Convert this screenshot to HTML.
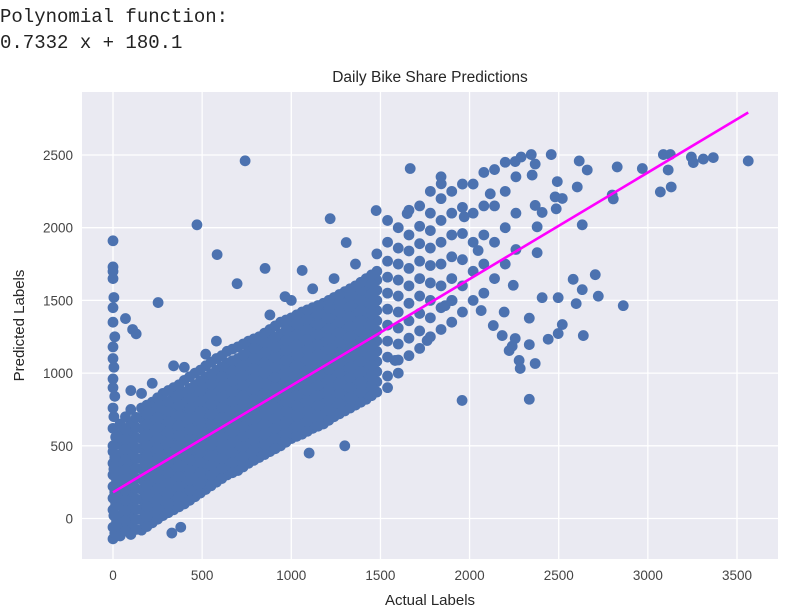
<!DOCTYPE html>
<html><head><meta charset="utf-8">
<style>
body{margin:0;background:#fff;width:791px;height:613px;overflow:hidden;font-family:"Liberation Sans",sans-serif;}
#hdr{position:absolute;left:0;top:4px;font-family:"Liberation Mono",monospace;font-size:19px;line-height:26px;color:#222;white-space:pre;}
svg{position:absolute;left:0;top:0;}
</style></head>
<body>
<div id="hdr">Polynomial function:
0.7332 x + 180.1</div>
<svg id="chart" width="791" height="613"></svg>
<script>
const xTicks=[0,500,1000,1500,2000,2500,3000,3500];
const yTicks=[0,500,1000,1500,2000,2500];
const fitSlope=0.7332;
const fitIntercept=180.1;
// dense band: column actual values and predicted values per column
const bandX=[40,100,160,220,280,340,400,460,520,580,640,700,760,820,880,940,1000,1060,1120,1180,1240,1300,1360,1420,1480];
const bandY=[
[-120,-50,20,90,160,230,300,370,440,510,580,650],
[-110,-40,30,100,170,240,310,380,450,520,590,660,750,880],
[-80,-10,60,130,200,270,340,410,480,550,620,690,760,860],
[-30,40,110,180,250,320,390,460,530,600,670,740,800,930],
[20,90,160,230,300,370,440,510,580,650,720,790,860],
[60,130,200,270,340,410,480,550,620,690,760,830,900,1050],
[100,170,240,310,380,450,520,590,660,730,800,870,950,1040],
[150,220,290,360,430,500,570,640,710,780,850,920,1000],
[200,270,340,410,480,550,620,690,760,830,900,970,1050,1130],
[250,320,390,460,530,600,670,740,810,880,950,1020,1100,1220],
[300,370,440,510,580,650,720,790,860,930,1000,1070,1150],
[330,400,470,540,610,680,750,820,890,960,1030,1100,1180],
[380,450,520,590,660,730,800,870,940,1010,1080,1150,1220],
[420,490,560,630,700,770,840,910,980,1050,1120,1190,1250],
[460,530,600,670,740,810,880,950,1020,1090,1160,1230,1300,1400],
[500,570,640,710,780,850,920,990,1060,1130,1200,1270,1350],
[550,620,690,760,830,900,970,1040,1110,1180,1250,1320,1380,1500],
[580,650,720,790,860,930,1000,1070,1140,1210,1280,1350,1420],
[620,690,760,830,900,970,1040,1110,1180,1250,1320,1390,1450,1580],
[650,720,790,860,930,1000,1070,1140,1210,1280,1350,1420,1480],
[700,770,840,910,980,1050,1120,1190,1260,1330,1400,1470,1520,1650],
[740,810,880,950,1020,1090,1160,1230,1300,1370,1440,1510,1560],
[780,850,920,990,1060,1130,1200,1270,1340,1410,1480,1550,1600,1750],
[820,890,960,1030,1100,1170,1240,1310,1380,1450,1520,1590,1650],
[870,940,1010,1080,1150,1220,1290,1360,1430,1500,1570,1640,1700,1820]
];
// interleaved band columns
const band2X=[70,130,190,250,310,370,430,490,550,610,670,730,790,850,910,970,1030,1090,1150,1210,1270,1330,1390,1450];
const band2Y=[
[-85,-15,55,125,195,265,335,405,475,545,615,700],
[-75,-5,65,135,205,275,345,415,485,555,625,695],
[-55,15,85,155,225,295,365,435,505,575,645,715,780],
[-5,65,135,205,275,345,415,485,555,625,695,765,830],
[40,105,175,245,315,385,455,525,595,665,735,805,880],
[80,150,220,290,360,430,500,570,640,710,780,850,920],
[125,195,265,335,405,475,545,615,685,755,825,895,975],
[175,245,315,385,455,525,595,665,735,805,875,945,1020],
[225,295,365,435,505,575,645,715,785,855,925,995,1075],
[275,345,415,485,555,625,695,765,835,905,975,1045,1120],
[315,385,455,525,595,665,735,805,875,945,1015,1085,1165],
[355,425,495,565,635,705,775,845,915,985,1055,1125,1200],
[400,470,540,610,680,750,820,890,960,1030,1100,1170,1235],
[440,510,580,650,720,790,860,930,1000,1070,1140,1210,1275],
[480,550,620,690,760,830,900,970,1040,1110,1180,1250,1325],
[525,595,665,735,805,875,945,1015,1085,1155,1225,1295,1365],
[565,635,705,775,845,915,985,1055,1125,1195,1265,1335,1400],
[600,670,740,810,880,950,1020,1090,1160,1230,1300,1370,1435],
[635,705,775,845,915,985,1055,1125,1195,1265,1335,1405,1465],
[675,745,815,885,955,1025,1095,1165,1235,1305,1375,1445,1500],
[720,790,860,930,1000,1070,1140,1210,1280,1350,1420,1490,1540],
[760,830,900,970,1040,1110,1180,1250,1320,1390,1460,1530,1580],
[800,870,940,1010,1080,1150,1220,1290,1360,1430,1500,1570,1625],
[845,915,985,1055,1125,1195,1265,1335,1405,1475,1545,1615,1675]
];
// sparser extension
const extX=[1540,1600,1660,1720,1780,1840,1900,1960,2020,2080,2140,2200,2260];
const extY=[
[900,980,1110,1220,1330,1440,1550,1660,1770,1900,2050],
[1000,1090,1200,1310,1420,1530,1640,1750,1860,2000],
[1120,1240,1360,1480,1600,1720,1840,1950,2120],
[1170,1290,1410,1530,1650,1770,1890,2010,2150],
[1250,1380,1500,1620,1740,1860,1980,2100,2250],
[1300,1450,1600,1750,1900,2050,2200,2350],
[1350,1500,1650,1800,1950,2100,2250],
[1420,1600,1780,1960,2140,2300],
[1500,1700,1900,2100,2300],
[1550,1750,1950,2150,2380],
[1650,1900,2150,2400],
[1750,2000,2250,2450],
[1850,2100,2350]
];
// near-zero actual column
const zeroX=[0,10,0,20,5,0,15,0,10,0,20,0,5,0,10,0,0,15,0,5,0,10,0,0,5,0,0,10,0,0,5,0,0,0,0,70,110,130];
const zeroY=[-140,-100,-60,-20,20,60,100,140,180,220,260,300,340,380,420,460,500,560,620,700,760,840,900,960,1040,1100,1180,1250,1350,1450,1520,1650,1700,1730,1910,1375,1300,1270];
// scattered outliers
const outX=[741,471,584,853,696,253,3087,3126,3244,3255,3311,3367,3563,3114,3070,3131,2969,2828,2660,2615,2604,2806,2800,2632,2458,2346,2289,2256,2368,2351,2492,2480,2520,2486,2368,2407,2379,2379,2245,2581,2705,2407,2497,2598,2632,2722,2862,2335,2520,2497,2638,2441,2335,2239,2278,2284,2368,2335,2194,2183,1667,1476,1650,1841,1970,2116,2048,1218,1308,1061,965,1902,2065,1958,1459,1582,2256,2222,2133,1762,1863,1300,1100,380,330];
const outY=[2460,2020,1815,1720,1615,1485,2503,2503,2486,2448,2472,2482,2459,2397,2246,2280,2407,2418,2397,2459,2280,2198,2225,2020,2503,2503,2486,2455,2438,2362,2317,2212,2201,2130,2153,2105,2006,1828,1604,1645,1677,1519,1519,1478,1574,1529,1464,1378,1334,1272,1258,1233,1196,1185,1087,1032,1066,820,1420,1258,2407,2118,2097,2302,2075,2233,1843,2062,1898,1706,1526,1499,1430,812,950,1087,1238,1155,1327,1224,1464,500,450,-60,-100];

const NS='http://www.w3.org/2000/svg';
const svg=document.getElementById('chart');
const L=82,T=92,R=778,B=559;
function sx(v){return 113+v*(737-113)/3500;}
function sy(v){return 518.5-v*(518.5-155)/2500;}
function mk(tag,attrs,parent){const e=document.createElementNS(NS,tag);for(const k in attrs)e.setAttribute(k,attrs[k]);(parent||svg).appendChild(e);return e;}

const bg=mk('rect',{x:L,y:T,width:R-L,height:B-T,fill:'#eaeaf2'});



xTicks.forEach(t=>{
  const g=mk('line',{x1:sx(t),x2:sx(t),y1:T,y2:B,stroke:'#fff','stroke-width':1.3});
  
  
  const lb=mk('text',{x:sx(t),y:B+21,'text-anchor':'middle','font-size':13.5,fill:'#444'});
  lb.textContent=t;
  
  
});
yTicks.forEach(t=>{
  const g=mk('line',{x1:L,x2:R,y1:sy(t),y2:sy(t),stroke:'#fff','stroke-width':1.3});
  
  
  const lb=mk('text',{x:L-9,y:sy(t)+5,'text-anchor':'end','font-size':13.5,fill:'#444'});
  lb.textContent=t;
  
  
});

const pts=mk('g',{fill:'#4c72b0'});


function dot(x,y){
  const c=mk('circle',{cx:sx(x),cy:sy(y),r:5.4},pts);
  
  
}
let allX=[];
bandX.forEach((x,i)=>bandY[i].forEach(y=>{dot(x,y);allX.push(x);}));
band2X.forEach((x,i)=>band2Y[i].forEach(y=>{dot(x,y);allX.push(x);}));
extX.forEach((x,i)=>extY[i].forEach(y=>{dot(x,y);allX.push(x);}));
zeroX.forEach((x,i)=>{dot(x,zeroY[i]);allX.push(x);});
outX.forEach((x,i)=>{dot(x,outY[i]);allX.push(x);});

const xmin=Math.min(...allX),xmax=Math.max(...allX);
const fl=mk('line',{x1:sx(xmin),y1:sy(fitSlope*xmin+fitIntercept),x2:sx(xmax),y2:sy(fitSlope*xmax+fitIntercept),stroke:'#ff00ff','stroke-width':2.6});



const ti=mk('text',{x:(L+R)/2,y:82,'text-anchor':'middle','font-size':15.5,fill:'#262626'});
ti.textContent='Daily Bike Share Predictions';


const xl=mk('text',{x:(L+R)/2,y:605,'text-anchor':'middle','font-size':15,fill:'#262626'});
xl.textContent='Actual Labels';


const yl=mk('text',{x:0,y:0,'text-anchor':'middle','font-size':15,fill:'#262626',transform:'translate(24,'+((T+B)/2)+') rotate(-90)'});
yl.textContent='Predicted Labels';


</script>
</body></html>
